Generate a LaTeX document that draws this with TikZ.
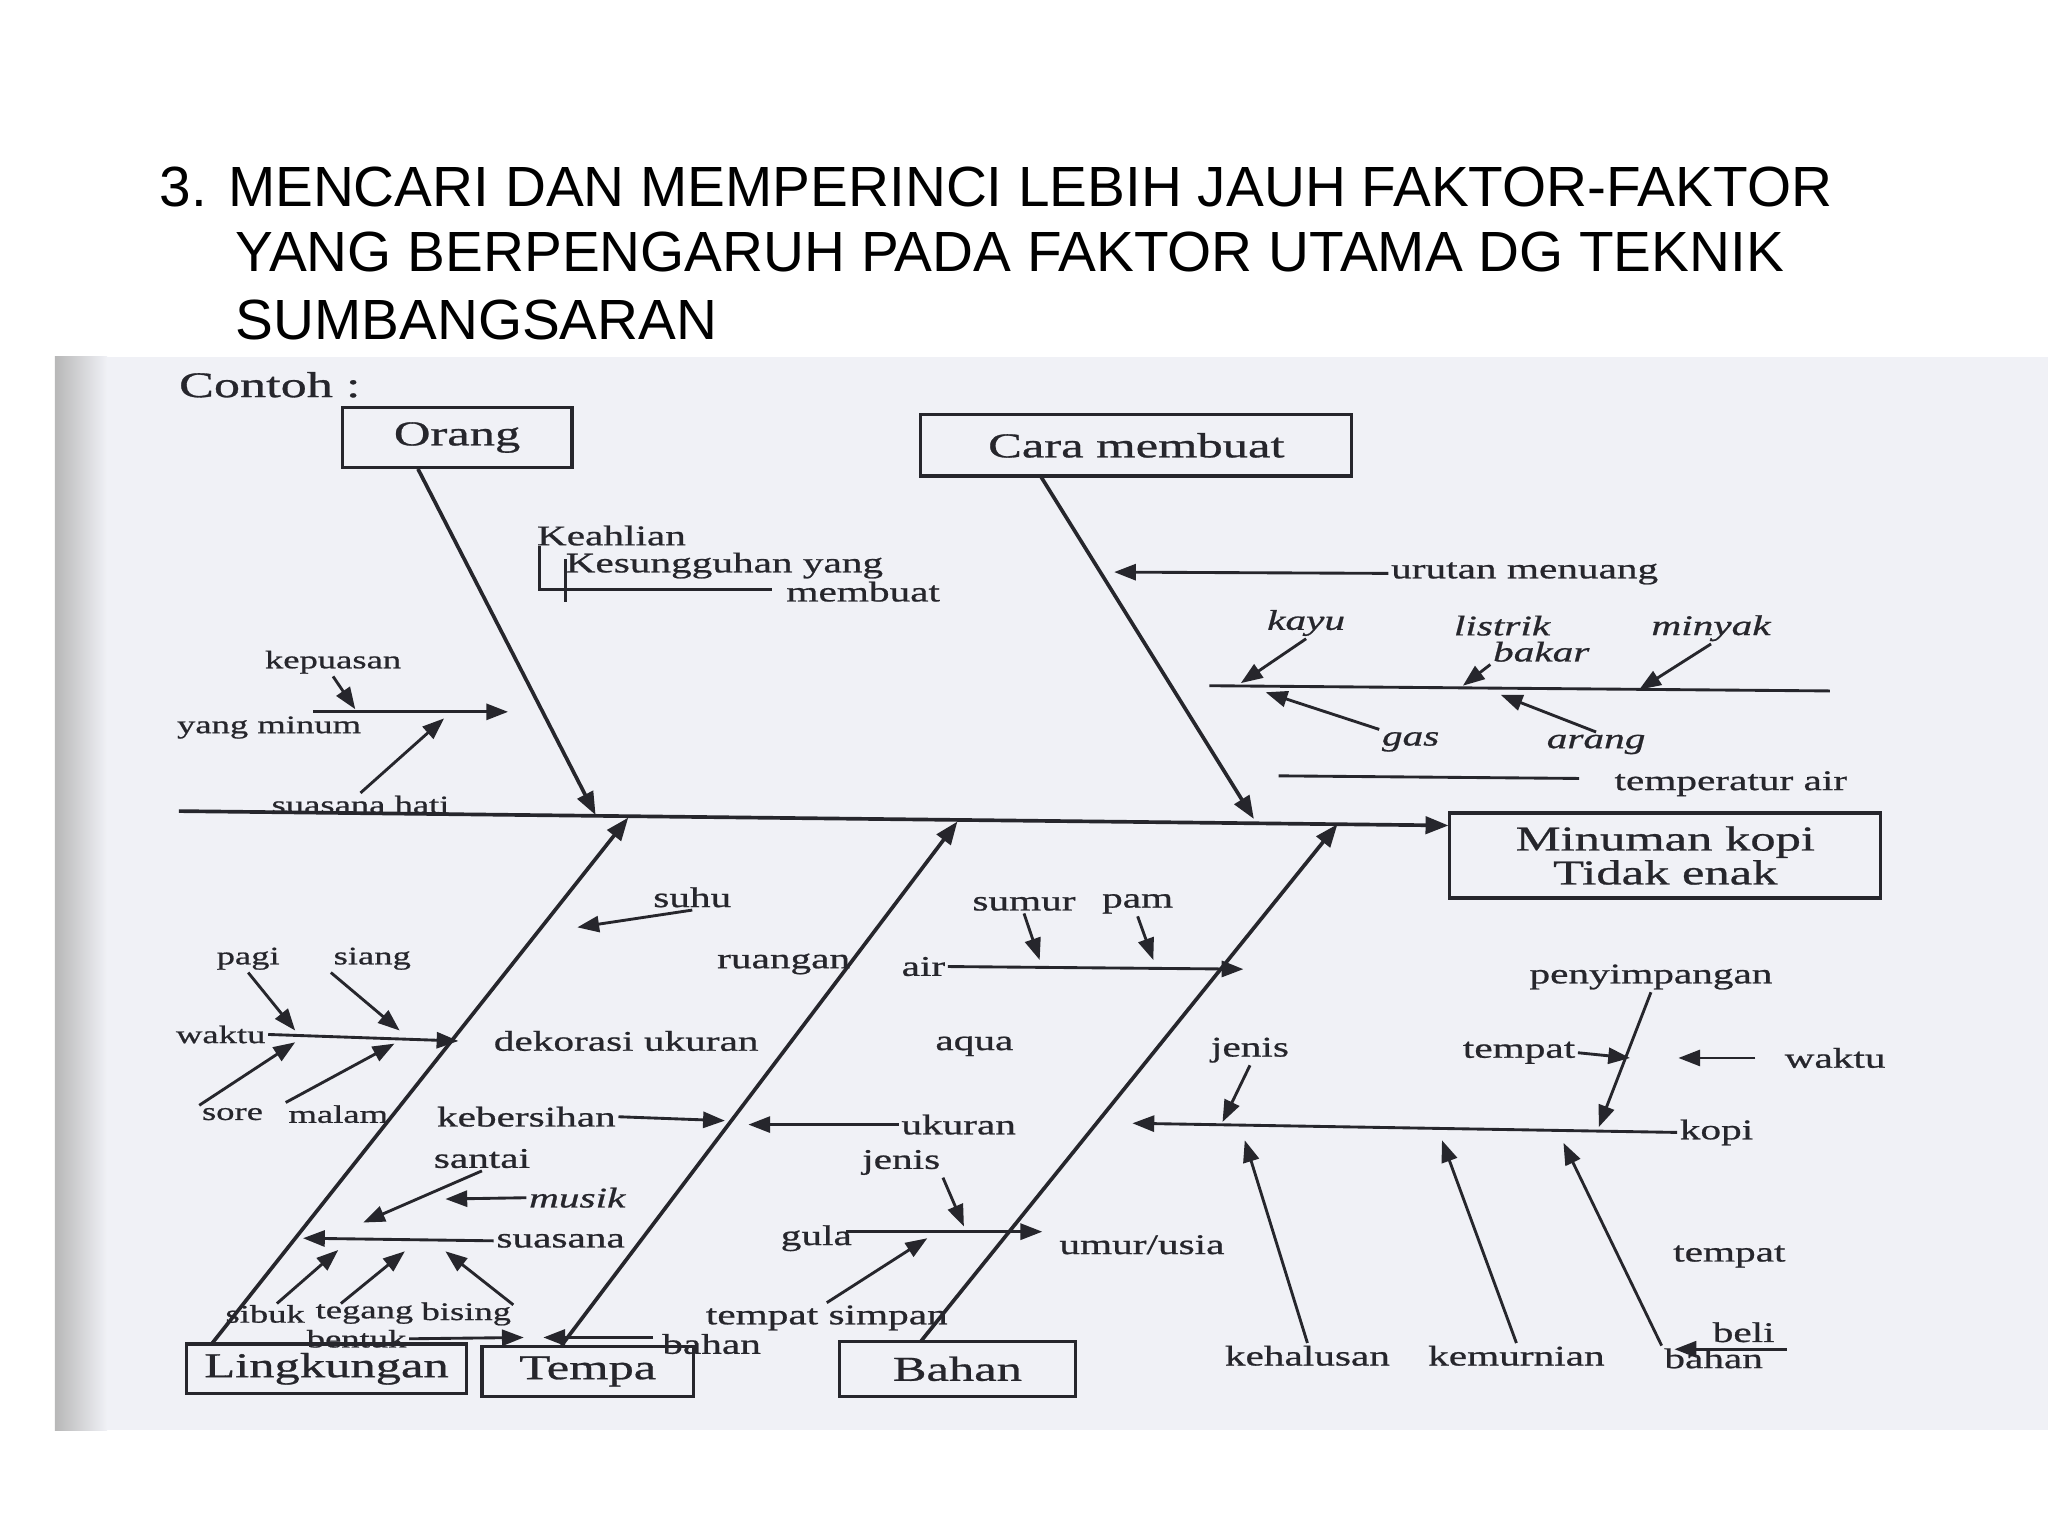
\documentclass[tikz,border=0pt]{standalone}
\usepackage{fontspec}
\setmainfont{Liberation Serif}
\newfontfamily\scanfont[FakeStretch=1.45,FakeBold=0.8]{Liberation Serif}
\newfontfamily\titlefont{Liberation Sans}
\usetikzlibrary{arrows.meta}
\definecolor{ink}{RGB}{38,38,44}
\definecolor{scanbg}{RGB}{240,241,246}
\tikzset{
	bone/.style={line width=1.6pt,draw=ink,-{Triangle[length=10pt,width=7.5pt]}},
	arr/.style={line width=1.25pt,draw=ink,-{Triangle[length=9.5pt,width=7pt]}},
	twig/.style={line width=1.25pt,draw=ink},
	judul/.style={font=\titlefont\fontsize{24.7}{29}\selectfont,anchor=base west,inner sep=0pt},
	kotak/.style={draw=ink,line width=1.4pt,font=\scanfont\fontsize{15.2}{13.6}\selectfont,text=ink,inner sep=0pt},
	lbl/.style={font=\scanfont\fontsize{12.4}{14}\selectfont,text=ink,inner sep=1pt},
	slbl/.style={font=\scanfont\fontsize{11}{13}\selectfont,text=ink,inner sep=1pt},
	ilbl/.style={font=\scanfont\itshape\fontsize{12.4}{14}\selectfont,text=ink,inner sep=1pt},
}
\begin{document}
\begin{tikzpicture}[x=0.02cm,y=-0.02cm]
		\useasboundingbox (0,0) rectangle (1568,1176);
		\fill[scanbg] (42,273) rectangle (1568,1095);
		\shade[left color=black!28,right color=scanbg] (42,273) rectangle (82,1095);
		
		\node[judul] (judul1) at (122,158) {3. MENCARI DAN MEMPERINCI LEBIH JAUH FAKTOR-FAKTOR};
		\node[judul] (judul2) at (180,208) {YANG BERPENGARUH PADA FAKTOR UTAMA DG TEKNIK};
		\node[judul] (judul3) at (180,260) {SUMBANGSARAN};
		\node[lbl,font=\scanfont\fontsize{15.7}{18}\selectfont,anchor=base west] (contoh) at (135,304) {Contoh :};
		
		\node[kotak,minimum width=3.52cm,minimum height=0.92cm] (orang) at (350,335) {Orang};
		\node[kotak,minimum width=6.6cm,minimum height=0.94cm] (cara) at (870,341) {Cara membuat};
		\node[kotak,minimum width=6.6cm,minimum height=1.3cm,align=center] (akibat) at (1275,655) {Minuman kopi\\Tidak enak};
		\node[kotak,minimum width=4.28cm,minimum height=0.76cm] (lingkungan) at (250,1048) {Lingkungan};
		\node[kotak,minimum width=3.24cm,minimum height=0.76cm] (tempa) at (450,1050) {Tempa};
		\node[kotak,minimum width=3.62cm,minimum height=0.84cm] (bahan) at (733,1048) {Bahan};
		
		\coordinate (spineS) at (137,621);
		\coordinate (spineE) at (1109,632);
		\coordinate (orangB) at (320,359);
		\coordinate (orangT) at (456,624);
		\coordinate (caraB) at (797,365);
		\coordinate (caraT) at (960,627);
		\coordinate (lingkB) at (162,1029);
		\coordinate (lingkT) at (481,626);
		\coordinate (tempaB) at (430,1030);
		\coordinate (tempaT) at (733,629);
		\coordinate (bahanB) at (705,1027);
		\coordinate (bahanT) at (1024,631);
		\draw[bone] (spineS) -- (spineE);
		\draw[bone] (orangB) -- (orangT);
		\draw[bone] (caraB) -- (caraT);
		\draw[bone] (lingkB) -- (lingkT);
		\draw[bone] (tempaB) -- (tempaT);
		\draw[bone] (bahanB) -- (bahanT);
		
		\node[lbl,anchor=west] (keahlian) at (409,410) {Keahlian};
		\node[lbl,anchor=west] (kesungguhan) at (431,433) {Kesungguhan yang};
		\node[lbl,anchor=west] (membuat) at (600,453) {membuat};
		\draw[twig] (413,418) -- (413,451) -- (591,451);
		\draw[twig] (433,428) -- (433,461);
		\node[slbl] (kepuasan) at (255,507) {kepuasan};
		\node[slbl] (yangminum) at (206,557) {yang minum};
		\node[slbl] (suasanahati) at (276,616) {suasana hati};
		\coordinate (kepT) at (272,543);
		\coordinate (minumS) at (240,545);
		\coordinate (minumT) at (389,545);
		\coordinate (hatiT) at (340,550);
		\draw[arr] (kepuasan.south) -- (kepT);
		\draw[arr] (minumS) -- (minumT);
		\draw[arr] (suasanahati.north) -- (hatiT);
		
		\node[lbl,anchor=west] (urutan) at (1063,439) {urutan menuang};
		\coordinate (urutT) at (853,438);
		\draw[arr] (urutan.west) -- (urutT);
		\coordinate (apiS) at (926,525);
		\coordinate (apiE) at (1401,529);
		\draw[twig] (apiS) -- (apiE);
		\node[ilbl] (kayu) at (1000,477) {kayu};
		\node[ilbl] (listrik) at (1150,479) {listrik};
		\node[ilbl] (bakar) at (1180,499) {bakar};
		\node[ilbl] (minyak) at (1310,481) {minyak};
		\node[ilbl] (gas) at (1080,568) {gas};
		\node[ilbl] (arang) at (1222,570) {arang};
		\coordinate (kayuT) at (950,523);
		\coordinate (bakarT) at (1120,525);
		\coordinate (minyakT) at (1255,528);
		\coordinate (gasT) at (969,530);
		\coordinate (arangT) at (1149,532);
		\draw[arr] (kayu.south) -- (kayuT);
		\draw[arr] (bakar.south west) -- (bakarT);
		\draw[arr] (minyak.south) -- (minyakT);
		\draw[arr] (gas.north west) -- (gasT);
		\draw[arr] (arang.north) -- (arangT);
		\node[lbl,anchor=west] (temperatur) at (1234,600) {temperatur air};
		\coordinate (suhuS) at (979,594);
		\coordinate (suhuE) at (1209,596);
		\draw[twig] (suhuS) -- (suhuE);
		
		\node[lbl] (suhu) at (530,687) {suhu};
		\coordinate (suhuT) at (442,710);
		\draw[arr] (suhu.south) -- (suhuT);
		\node[slbl] (pagi) at (190,734) {pagi};
		\node[slbl] (siang) at (285,734) {siang};
		\node[slbl] (waktuL) at (169,792) {waktu};
		\node[slbl] (sore) at (178,853) {sore};
		\node[slbl] (malam) at (259,853) {malam};
		\coordinate (pagiT) at (226,789);
		\coordinate (siangT) at (306,789);
		\coordinate (waktuT) at (351,797);
		\coordinate (soreT) at (226,798);
		\coordinate (malamT) at (302,799);
		\draw[arr] (pagi.south) -- (pagiT);
		\draw[arr] (siang.south west) -- (siangT);
		\draw[arr] (waktuL.east) -- (waktuT);
		\draw[arr] (sore.north west) -- (soreT);
		\draw[arr] (malam.north west) -- (malamT);
		\node[lbl,anchor=west] (dekorasi) at (376,797) {dekorasi ukuran};
		\node[lbl] (kebersihan) at (403,855) {kebersihan};
		\coordinate (bersihT) at (555,858);
		\draw[arr] (kebersihan.east) -- (bersihT);
		\node[lbl] (santai) at (369,887) {santai};
		\node[ilbl,anchor=west] (musik) at (403,917) {musik};
		\node[lbl,anchor=west] (suasana) at (378,950) {suasana};
		\coordinate (santaiT) at (278,936);
		\coordinate (musikT) at (341,918);
		\coordinate (suasanaT) at (232,948);
		\draw[arr] (santai.south) -- (santaiT);
		\draw[arr] (musik.west) -- (musikT);
		\draw[arr] (suasana.west) -- (suasanaT);
		\node[slbl] (sibuk) at (203,1006) {sibuk};
		\node[slbl] (tegang) at (279,1006) {tegang};
		\node[slbl] (bising) at (357,1006) {bising};
		\coordinate (sibukS) at (212,998);
		\coordinate (tegangS) at (261,998);
		\coordinate (bisingS) at (393,999);
		\draw[arr] (sibukS) -- (259,957);
		\draw[arr] (tegangS) -- (310,958);
		\draw[arr] (bisingS) -- (341,958);
		\node[slbl] (bentuk) at (273,1025) {bentuk};
		\coordinate (bentukT) at (401,1024);
		\draw[arr] (bentuk.east) -- (bentukT);
		
		\node[lbl] (ruangan) at (600,738) {ruangan};
		\node[lbl,anchor=west] (ukuran) at (688,861) {ukuran};
		\coordinate (ukuranT) at (573,861);
		\draw[arr] (ukuran.west) -- (ukuranT);
		\node[lbl] (aqua) at (746,801) {aqua};
		\node[lbl] (jenisT) at (690,890) {jenis};
		\coordinate (jenisTT) at (738,939);
		\draw[arr] (jenisT.south east) -- (jenisTT);
		\node[lbl] (gula) at (625,948) {gula};
		\coordinate (gulaS) at (648,943);
		\coordinate (gulaT) at (798,943);
		\draw[arr] (gulaS) -- (gulaT);
		\node[lbl,anchor=west] (umur) at (809,953) {umur/usia};
		\node[lbl] (tempatsimpan) at (633,1009) {tempat simpan};
		\coordinate (simpanT) at (710,948);
		\draw[arr] (tempatsimpan.north) -- (simpanT);
		\node[lbl,anchor=west] (bahanTempa) at (505,1029) {bahan};
		\coordinate (bahanTS) at (500,1024);
		\coordinate (bahanTT) at (416,1024);
		\draw[arr] (bahanTS) -- (bahanTT);
		
		\node[lbl] (sumur) at (784,692) {sumur};
		\node[lbl] (pam) at (871,692) {pam};
		\coordinate (sumurT) at (796,735);
		\coordinate (pamT) at (883,735);
		\draw[arr] (sumur.south) -- (sumurT);
		\draw[arr] (pam.south) -- (pamT);
		\node[lbl] (air) at (707,740) {air};
		\coordinate (airT) at (952,742);
		\draw[arr] (air.east) -- (airT);
		\node[lbl] (jenisB) at (957,804) {jenis};
		\coordinate (jenisBT) at (936,859);
		\draw[arr] (jenisB.south) -- (jenisBT);
		\node[lbl,anchor=west] (kopi) at (1284,867) {kopi};
		\coordinate (kopiT) at (867,860);
		\draw[arr] (kopi.west) -- (kopiT);
		\node[lbl] (penyimpangan) at (1264,748) {penyimpangan};
		\coordinate (simpangT) at (1224,863);
		\draw[arr] (penyimpangan.south) -- (simpangT);
		\node[lbl] (tempatA) at (1163,806) {tempat};
		\coordinate (tempatAT) at (1248,810);
		\draw[arr] (tempatA.east) -- (tempatAT);
		\node[lbl] (waktuR) at (1405,810) {waktu};
		\coordinate (waktuRS) at (1344,810);
		\coordinate (waktuRT) at (1285,810);
		\draw[arr] (waktuRS) -- (waktuRT);
		\node[lbl] (tempatB) at (1324,962) {tempat};
		\node[lbl] (kehalusan) at (1001,1038) {kehalusan};
		\node[lbl] (kemurnian) at (1161,1038) {kemurnian};
		\node[lbl] (beli) at (1335,1020) {beli};
		\node[lbl] (bahanBeli) at (1312,1040) {bahan};
		\coordinate (halusT) at (953,873);
		\coordinate (murniT) at (1104,873);
		\coordinate (beliT) at (1197,875);
		\draw[arr] (kehalusan.north) -- (halusT);
		\draw[arr] (kemurnian.north) -- (murniT);
		\draw[arr] (bahanBeli.north west) -- (beliT);
		\coordinate (beliS) at (1368,1033);
		\coordinate (beliST) at (1282,1033);
		\draw[arr] (beliS) -- (beliST);
\end{tikzpicture}
\end{document}
